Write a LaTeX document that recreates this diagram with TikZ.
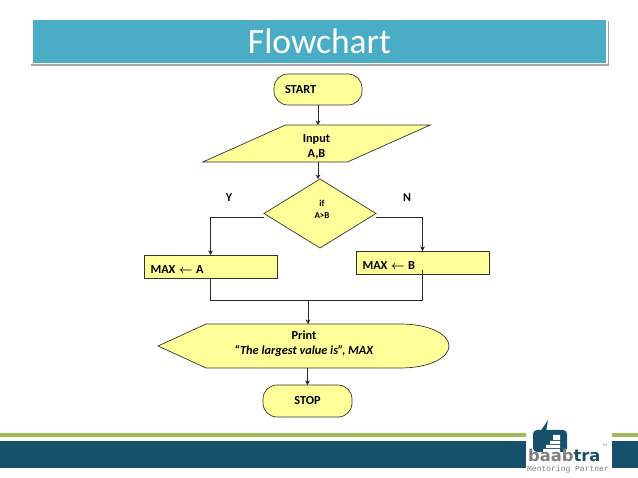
\documentclass[tikz,border=0pt]{standalone}
\usepackage{fontspec}
\setmainfont{Carlito}
\newfontfamily\logomono{Liberation Mono}
\newfontfamily\logosans{DejaVu Sans}
\usetikzlibrary{shapes.geometric,arrows.meta,positioning,calc}
\definecolor{boxyellow}{HTML}{FFFF99}
\definecolor{titleblue}{HTML}{4BACC6}
\definecolor{barteal}{HTML}{17506A}
\definecolor{bargreen}{HTML}{9BBB59}
\definecolor{logogrey}{HTML}{7F7F7F}
\begin{document}
\begin{tikzpicture}[
    x=1pt, y=-1pt,
    box/.style={rectangle, draw=black!80, fill=boxyellow, line width=0.7pt, outer sep=0pt, font=\fontsize{12.3}{15}\selectfont\bfseries},
    terminal/.style={box, rounded corners=14pt, minimum height=31pt},
    assign/.style={box, minimum width=133pt, minimum height=23pt, text width=120pt, inner xsep=6.5pt, align=left, text height=15pt, text depth=0pt},
    arrow/.style={-{Stealth[length=4.5pt,width=4.5pt]}, line width=0.6pt, draw=black!85},
    link/.style={line width=0.6pt, draw=black!85},
    lbl/.style={font=\fontsize{12}{14}\selectfont\bfseries, inner sep=0pt}
]
    \useasboundingbox (0,0) rectangle (638,478);
    \fill[white] (0,0) rectangle (638,478);

    % title bar
    \fill[black!35] (31,21) rectangle (609,66);
    \fill[white] (30,18) rectangle (608,64.5);
    \node[fill=titleblue, text=white, minimum width=573pt, minimum height=43pt, inner sep=0pt, font=\fontsize{35.5}{40}\selectfont] (title) at (319.5,41.5) {Flowchart};

    % footer bars
    \fill[bargreen] (0,433.5) rectangle (526,437.5);
    \fill[bargreen] (612,433.5) rectangle (638,437.5);
    \fill[barteal] (0,441.5) rectangle (526,468);
    \fill[barteal] (612,441.5) rectangle (638,468);

    % logo
    \fill[barteal, rounded corners=4pt] (533,430) rectangle (567,452);
    \fill[barteal] (540,432) -- (548,420) -- (546,432) -- cycle;
    \fill[white] (543,452) rectangle (560,449) (546,448) rectangle (560,445) (550,444) rectangle (560,441) (553,440) rectangle (560,435);
    \node[inner sep=0pt, anchor=base west, text depth=0pt, font=\logosans\fontsize{16.3}{17}\selectfont\bfseries] (logoname) at (528,461.7) {\textcolor{logogrey}{baab}\textcolor{barteal}{tra}};
    \node[inner sep=0pt, text=logogrey, font=\fontsize{3.5}{4}\selectfont] (logotm) at (605,445) {TM};
    \node[inner sep=0pt, text=logogrey, font=\logomono\fontsize{8}{8}\selectfont] (logotag) at (568,469) {Mentoring Partner};

    % flowchart nodes
    \node[terminal, minimum width=88pt, text width=66pt, inner xsep=11pt, align=left] (start) at (318,89.5) {START};
    \node[box, trapezium, trapezium left angle=40, trapezium right angle=140, trapezium stretches=true, minimum width=229pt, minimum height=37pt, inner sep=0pt, align=center] (input) at (316.5,143.5) {\rule{0pt}{14pt}Input\\A,B};
    \node[box, diamond, aspect=1.62, minimum width=112pt, minimum height=69pt, inner sep=0pt, align=center, font=\fontsize{9}{12}\selectfont\bfseries, text depth=8pt] (cond) at (320,213.5) {\hspace*{4pt}if\\\hspace*{4pt}A>B};
    \node[assign] (maxa) at (210.5,266.5) {MAX\;{\boldmath$\leftarrow$}\;A};
    \node[assign] (maxb) at (422.5,262.5) {MAX\;{\boldmath$\leftarrow$}\;B};
    \node[minimum width=291pt, minimum height=44pt, inner sep=0pt, outer sep=0pt] (print) at (303.5,346) {};
    \fill[boxyellow, draw=black!80, line width=0.7pt] (print.west) -- (206,324) -- (400,324) .. controls (431,324) and (449,335) .. (449,346) .. controls (449,357) and (431,368) .. (400,368) -- (206,368) -- cycle;
    \node[align=center, inner sep=0pt, font=\fontsize{12.3}{15}\selectfont\bfseries] (printtext) at (304,344) {Print\\\textit{“The largest value is”, MAX}};
    \node[terminal, minimum width=89pt, minimum height=32pt] (stop) at (307.5,401) {STOP};

    % branch labels
    \node[lbl] (yes) at (229,198) {Y};
    \node[lbl] (no) at (407,198) {N};

    % connectors
    \coordinate (merge) at (308,300);
    \draw[arrow] (start.south) -- (start.south |- input.north);
    \draw[arrow] (start.south |- input.south) -- (start.south |- cond.north);
    \draw[arrow] ([yshift=-4pt]cond.west) -| (maxa.north);
    \draw[arrow] ([yshift=-4pt]cond.east) -| (maxb.north);
    \draw[link] (maxa.south) |- (merge);
    \draw[link] ([yshift=4pt]maxb.south) |- (merge);
    \draw[arrow] (merge) -- (merge |- print.north);
    \draw[arrow] (stop.north |- print.south) -- (stop.north);
\end{tikzpicture}
\end{document}
